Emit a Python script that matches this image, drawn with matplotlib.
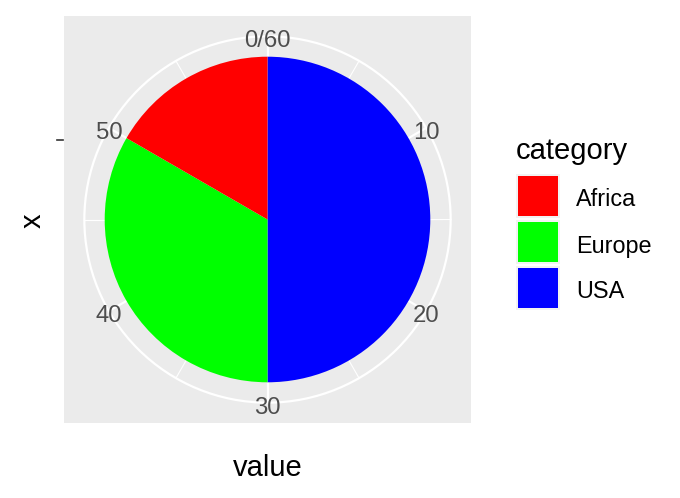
import matplotlib.pyplot as plt
import matplotlib.patches as mpatches
import numpy as np

categories = ["Africa", "Europe", "USA"]
values = [10, 20, 30]
colors = ["#FF0000", "#00FF00", "#0000FF"]
theta_breaks = [0, 10, 20, 30, 40, 50]
theta_labels = ["0/60", "10", "20", "30", "40", "50"]

plt.rcParams["font.family"] = ["Liberation Sans", "DejaVu Sans"]

W, H = 680, 498
fig = plt.figure(figsize=(W / 100, H / 100), dpi=100)

# panel in pixels
px0, px1, py0, py1 = 64, 471, 16, 423
ax = fig.add_axes([px0 / W, 1 - py1 / H, (px1 - px0) / W, (py1 - py0) / H])
ax.set_facecolor("#EBEBEB")

total = sum(values)
R_out = 0.45

def ang(v):
    # clockwise from top
    return np.pi / 2 - 2 * np.pi * v / total

# radial grid lines (major + minor)
for v in np.arange(0, total, 5):
    a = ang(v)
    major = v % 10 == 0
    ax.plot([0, R_out * np.cos(a)], [0, R_out * np.sin(a)], color="white",
            lw=1.6 if major else 0.8, zorder=1, solid_capstyle="butt")
ax.add_patch(mpatches.Circle((0, 0), R_out, fill=False, ec="white", lw=1.6, zorder=1))

# pie: stacked from last category at 0 clockwise
ax.pie(values[::-1], colors=colors[::-1], radius=0.4, startangle=90,
       counterclock=False, frame=True, wedgeprops=dict(lw=0, zorder=2))
ax.set_xlim(-0.5, 0.5)
ax.set_ylim(-0.5, 0.5)
ax.set_aspect("auto")
ax.set_xticks([])
ax.set_yticks([])
for s in ax.spines.values():
    s.set_visible(False)

dy = 5 / 407
for v, lab in zip(theta_breaks, theta_labels):
    a = ang(v)
    ax.text(R_out * np.cos(a), R_out * np.sin(a) - dy, lab, ha="center", va="center",
            fontsize=17.2, color="#4D4D4D", zorder=3)

# left tick for the single x level
ty = 1 - (221 - 0.2 * 407) / H
fig.add_artist(plt.Line2D([57 / W, 63 / W], [ty, ty], color="#333333", lw=1.2))

fig.text(33 / W, 1 - 221 / H, "x", rotation=90, ha="center", va="center", fontsize=21)
fig.text(268 / W, 1 - 468 / H, "value", ha="center", va="center", fontsize=21)

# legend
fig.text(516 / W, 1 - 151 / H, "category", ha="left", va="center", fontsize=21)
key_tops = [174, 220, 266]
for cat, col, top in zip(categories, colors, key_tops):
    fig.add_artist(mpatches.Rectangle((516 / W, 1 - (top + 44) / H), 44 / W, 44 / H,
                                      transform=fig.transFigure, fc="#F2F2F2", ec="none"))
    fig.add_artist(mpatches.Rectangle((518 / W, 1 - (top + 42) / H), 40 / W, 40 / H,
                                      transform=fig.transFigure, fc=col, ec="none"))
    fig.text(576 / W, 1 - (top + 26) / H, cat, ha="left", va="center", fontsize=16.8)

fig.savefig("out.png", dpi=100)
